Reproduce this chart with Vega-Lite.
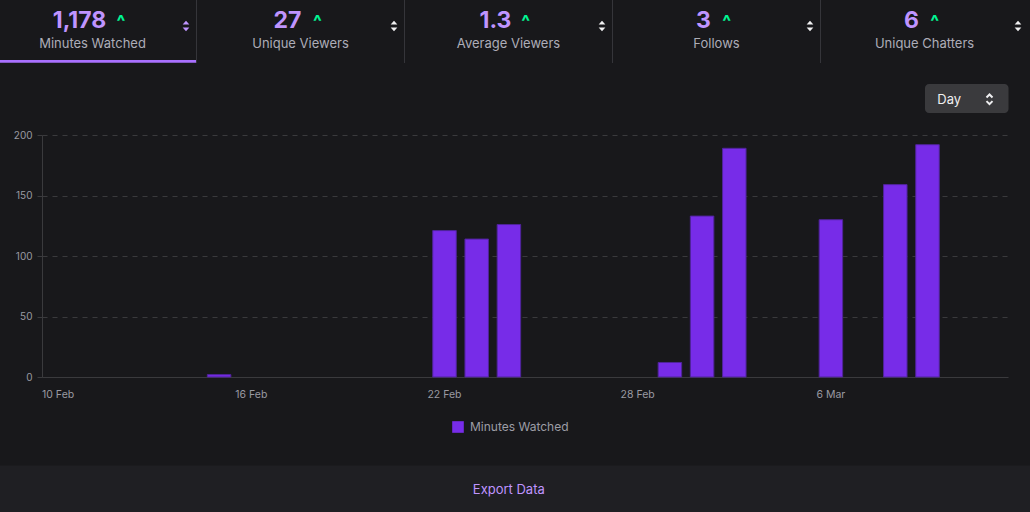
{
  "$schema": "https://vega.github.io/schema/vega-lite/v6.json",
  "width": 966,
  "height": 242,
  "autosize": {"type": "none"},
  "padding": {"left": 42, "top": 135, "right": 22, "bottom": 135},
  "background": "#18181b",
  "config": {
    "font": "Inter",
    "view": {"stroke": null}
  },
  "datasets": {
    "daily": [
      {"day": "10 Feb", "minutes": 0},
      {"day": "11 Feb", "minutes": 0},
      {"day": "12 Feb", "minutes": 0},
      {"day": "13 Feb", "minutes": 0},
      {"day": "14 Feb", "minutes": 0},
      {"day": "15 Feb", "minutes": 2},
      {"day": "16 Feb", "minutes": 0},
      {"day": "17 Feb", "minutes": 0},
      {"day": "18 Feb", "minutes": 0},
      {"day": "19 Feb", "minutes": 0},
      {"day": "20 Feb", "minutes": 0},
      {"day": "21 Feb", "minutes": 0},
      {"day": "22 Feb", "minutes": 121},
      {"day": "23 Feb", "minutes": 114},
      {"day": "24 Feb", "minutes": 126},
      {"day": "25 Feb", "minutes": 0},
      {"day": "26 Feb", "minutes": 0},
      {"day": "27 Feb", "minutes": 0},
      {"day": "28 Feb", "minutes": 0},
      {"day": "1 Mar", "minutes": 12},
      {"day": "2 Mar", "minutes": 133},
      {"day": "3 Mar", "minutes": 189},
      {"day": "4 Mar", "minutes": 0},
      {"day": "5 Mar", "minutes": 0},
      {"day": "6 Mar", "minutes": 130},
      {"day": "7 Mar", "minutes": 0},
      {"day": "8 Mar", "minutes": 159},
      {"day": "9 Mar", "minutes": 192},
      {"day": "10 Mar", "minutes": 0},
      {"day": "11 Mar", "minutes": 0}
    ],
    "stats": [
      {"stat": "Minutes Watched", "value": "1,178"},
      {"stat": "Unique Viewers", "value": "27"},
      {"stat": "Average Viewers", "value": "1.3"},
      {"stat": "Follows", "value": "3"},
      {"stat": "Unique Chatters", "value": "6"}
    ]
  },
  "layer": [
    {
      "data": {"values": [{"part": "footer"}]},
      "mark": {"type": "rect", "x": -42, "x2": 988, "y": 330.5, "y2": 377, "fill": "#1f1f23"},
      "encoding": {}
    },
    {
      "data": {"values": [{"part": "footer"}]},
      "mark": {"type": "rule", "x": -42, "x2": 988, "y": 329.5, "stroke": "#323237", "strokeWidth": 2},
      "encoding": {}
    },
    {
      "data": {"values": [{"part": "footer"}]},
      "mark": {"type": "text", "x": 466.8, "y": 359, "align": "center", "baseline": "alphabetic", "fontSize": 13, "fill": "#bf94ff", "text": "Export Data"},
      "encoding": {}
    },
    {
      "data": {"values": [{"part": "header"}]},
      "mark": {"type": "rule", "x": -42, "x2": 988, "y": -71.5, "stroke": "#2f2f34", "strokeWidth": 1},
      "encoding": {}
    },
    {
      "data": {"values": [{"part": "header"}]},
      "mark": {"type": "rect", "x": -42, "x2": 154, "y": -75, "y2": -72.3, "fill": "#a970ff"},
      "encoding": {}
    },
    {
      "data": {"name": "stats"},
      "transform": [{"filter": "datum.stat !== 'Unique Chatters'"}],
      "mark": {"type": "rule", "y": -135, "y2": -72, "stroke": "#35353a", "strokeWidth": 1},
      "encoding": {
        "x": {
          "field": "stat", "type": "nominal", "sort": null, "bandPosition": 1,
          "scale": {"domain": ["Minutes Watched", "Unique Viewers", "Average Viewers", "Follows", "Unique Chatters"], "range": [-53.5, 986.5], "paddingInner": 0, "paddingOuter": 0},
          "axis": null
        }
      }
    },
    {
      "data": {"name": "stats"},
      "mark": {"type": "text", "y": -106.7, "dx": -13, "align": "center", "baseline": "alphabetic", "fontSize": 23, "fontWeight": 700, "fill": "#bf94ff"},
      "encoding": {
        "x": {
          "field": "stat", "type": "nominal", "sort": null,
          "scale": {"domain": ["Minutes Watched", "Unique Viewers", "Average Viewers", "Follows", "Unique Chatters"], "range": [-53.5, 986.5], "paddingInner": 0, "paddingOuter": 0},
          "axis": null
        },
        "text": {"field": "value"}
      }
    },
    {
      "data": {"name": "stats"},
      "mark": {
        "type": "text", "y": -107.5, "align": "center", "baseline": "alphabetic", "fontSize": 18, "fontWeight": 800, "fill": "#00f593", "text": "^",
        "dx": {"expr": "3.5 + 0.5 * (13.5 * length(datum.value) - 4.5 * (length(split(datum.value, '1')) - 1) - 8.5 * (length(split(datum.value, ',')) + length(split(datum.value, '.')) - 2))"}
      },
      "encoding": {
        "x": {
          "field": "stat", "type": "nominal", "sort": null,
          "scale": {"domain": ["Minutes Watched", "Unique Viewers", "Average Viewers", "Follows", "Unique Chatters"], "range": [-53.5, 986.5], "paddingInner": 0, "paddingOuter": 0},
          "axis": null
        }
      }
    },
    {
      "data": {"name": "stats"},
      "mark": {"type": "text", "y": -86.7, "align": "center", "baseline": "alphabetic", "fontSize": 13, "fill": "#adadb8"},
      "encoding": {
        "x": {
          "field": "stat", "type": "nominal", "sort": null,
          "scale": {"domain": ["Minutes Watched", "Unique Viewers", "Average Viewers", "Follows", "Unique Chatters"], "range": [-53.5, 986.5], "paddingInner": 0, "paddingOuter": 0},
          "axis": null
        },
        "text": {"field": "stat"}
      }
    },
    {
      "data": {"name": "stats"},
      "mark": {"type": "point", "y": -109, "xOffset": 93.5, "shape": "M-0.65,-0.3 L0,-1 L0.65,-0.3 Z M-0.65,0.3 L0,1 L0.65,0.3 Z", "size": 106, "filled": true, "opacity": 1, "strokeWidth": 0},
      "encoding": {
        "x": {
          "field": "stat", "type": "nominal", "sort": null,
          "scale": {"domain": ["Minutes Watched", "Unique Viewers", "Average Viewers", "Follows", "Unique Chatters"], "range": [-53.5, 986.5], "paddingInner": 0, "paddingOuter": 0},
          "axis": null
        },
        "fill": {"condition": {"test": "datum.stat === 'Minutes Watched'", "value": "#bf94ff"}, "value": "#efeff1"}
      }
    },
    {
      "data": {"values": [{"part": "interval"}]},
      "mark": {"type": "rect", "x": 883, "x2": 966.5, "y": -51, "y2": -22, "cornerRadius": 4, "fill": "#3a3a3d"},
      "encoding": {}
    },
    {
      "data": {"values": [{"part": "interval"}]},
      "mark": {"type": "text", "x": 895.3, "y": -31, "align": "left", "baseline": "alphabetic", "fontSize": 13, "fill": "#efeff1", "text": "Day"},
      "encoding": {}
    },
    {
      "data": {"values": [{"part": "interval"}]},
      "mark": {"type": "point", "x": 947.5, "y": -35.7, "shape": "M-0.5,-0.3 L0,-0.8 L0.5,-0.3 M-0.5,0.3 L0,0.8 L0.5,0.3", "size": 144, "filled": false, "stroke": "#efeff1", "strokeWidth": 2, "opacity": 1},
      "encoding": {}
    },
    {
      "data": {"name": "daily"},
      "mark": {"type": "bar", "stroke": "#4f249a", "strokeWidth": 1},
      "encoding": {
        "x": {
          "field": "day", "type": "nominal", "sort": null, "title": null,
          "scale": {"paddingInner": 0.27, "paddingOuter": 0.135},
          "axis": {
            "values": ["10 Feb", "16 Feb", "22 Feb", "28 Feb", "6 Mar"],
            "labelAngle": 0, "ticks": false, "tickSize": 0, "labelPadding": 12,
            "labelFontSize": 10.5, "labelColor": "#9a9aa2", "domainColor": "#3a3a3d", "grid": false
          }
        },
        "y": {
          "field": "minutes", "type": "quantitative", "title": null,
          "scale": {"domain": [0, 200], "nice": false},
          "axis": {
            "values": [0, 50, 100, 150, 200], "grid": true, "gridDash": [5, 5], "gridColor": "#3a3a3d",
            "tickSize": 5, "tickColor": "#3a3a3d", "labelPadding": 5, "domainColor": "#3a3a3d",
            "labelFontSize": 10, "labelColor": "#9a9aa2"
          }
        },
        "color": {
          "datum": "Minutes Watched", "type": "nominal",
          "scale": {"range": ["#772ce8"]},
          "legend": {
            "title": null, "orient": "none", "legendX": 410, "legendY": 286,
            "symbolType": "square", "symbolSize": 135, "symbolStrokeWidth": 0,
            "labelFontSize": 12, "labelColor": "#9d9da6", "labelOffset": 6, "padding": 0
          }
        },
        "strokeOpacity": {"condition": {"test": "datum.minutes > 0", "value": 1}, "value": 0}
      }
    }
  ],
  "resolve": {"scale": {"x": "independent", "y": "independent"}}
}
